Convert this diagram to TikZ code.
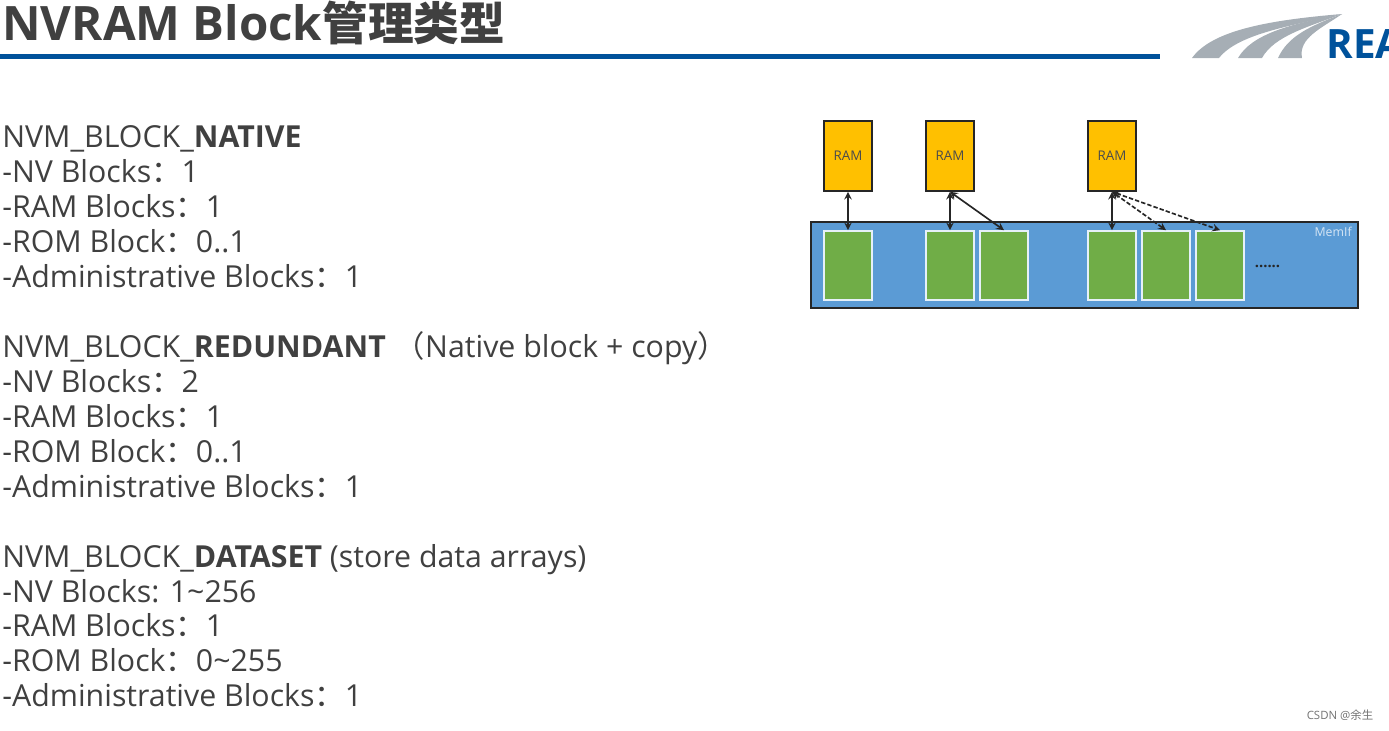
\documentclass[tikz,border=0pt]{standalone}
\usepackage{fontspec}
\setmainfont{Open Sans}
\newfontfamily\cjk{Noto Sans CJK SC}
\usetikzlibrary{shapes, positioning}
\definecolor{textgray}{HTML}{404040}
\definecolor{ruleblue}{HTML}{00529B}
\definecolor{logogray}{HTML}{A6AEB5}
\definecolor{ramyellow}{HTML}{FFC000}
\definecolor{memblue}{HTML}{5B9BD5}
\definecolor{blockgreen}{HTML}{70AD47}
\newcommand{\cnc}{{\cjk ：}}
\tikzset{
    line/.style={anchor=base west, inner sep=0pt, text=textgray, font=\fontsize{17.25}{19}\selectfont},
    ram/.style={draw=black!85, line width=0.9pt, fill=ramyellow, minimum width=48*0.02cm, minimum height=70*0.02cm, inner sep=0pt, text=black!70, font=\fontsize{7.6}{9}\selectfont},
    nvblock/.style={draw=white!85!memblue, line width=0.9pt, fill=blockgreen, minimum width=48*0.02cm, minimum height=69*0.02cm, inner sep=0pt},
    link/.style={<->, >=stealth, line width=0.95pt, black!85},
    copylink/.style={link, dashed, dash pattern=on 2.5pt off 1.2pt},
}
\begin{document}
\begin{tikzpicture}[x=0.02cm, y=-0.02cm]
        \useasboundingbox (0, 0) rectangle (1389, 730);
        \clip (0, 0) rectangle (1389, 730);

        % title
        \node[anchor=base west, inner sep=0pt, text=textgray, font=\fontsize{27}{32}\selectfont\bfseries] (title) at (2, 40) {NVRAM Block{\fontsize{26}{32}\selectfont\cjk 管理类型}};
        \fill[ruleblue] (0, 54) rectangle (1160, 59);

        % logo
        \fill[logogray] (1192, 58) .. controls (1212, 30) and (1270, 20) .. (1342, 14) .. controls (1290, 26) and (1238, 34) .. (1219, 58) -- cycle;
        \fill[logogray] (1238, 58) .. controls (1252, 34) and (1290, 24) .. (1342, 14) .. controls (1308, 27) and (1274, 36) .. (1262, 58) -- cycle;
        \fill[logogray] (1278, 58) .. controls (1288, 36) and (1310, 26) .. (1342, 14) .. controls (1322, 28) and (1298, 38) .. (1302, 58) -- cycle;
        \node[anchor=base west, inner sep=0pt, text=ruleblue, font=\fontsize{23}{26}\selectfont\bfseries] (logotext) at (1326, 58) {REA};

        % native
        \node[line] (nativehead) at (2, 147) {NVM\_BLOCK\_\textbf{NATIVE}};
        \node[line] (nativenv) at (2, 182) {-NV Blocks\cnc 1};
        \node[line] (nativeram) at (2, 217) {-RAM Blocks\cnc 1};
        \node[line] (nativerom) at (2, 252) {-ROM Block\cnc 0..1};
        \node[line] (nativeadmin) at (2, 287) {-Administrative Blocks\cnc 1};

        % redundant
        \node[line] (redhead) at (2, 357) {NVM\_BLOCK\_\textbf{REDUNDANT}\hspace{0.3em}{\cjk （}Native block + copy{\cjk ）}};
        \node[line] (rednv) at (2, 392) {-NV Blocks\cnc 2};
        \node[line] (redram) at (2, 427) {-RAM Blocks\cnc 1};
        \node[line] (redrom) at (2, 462) {-ROM Block\cnc 0..1};
        \node[line] (redadmin) at (2, 497) {-Administrative Blocks\cnc 1};

        % dataset
        \node[line] (sethead) at (2, 567) {NVM\_BLOCK\_\textbf{DATASET} (store data arrays)};
        \node[line] (setnv) at (2, 602) {-NV Blocks: 1\textasciitilde 256};
        \node[line] (setram) at (2, 636) {-RAM Blocks\cnc 1};
        \node[line] (setrom) at (2, 671) {-ROM Block\cnc 0\textasciitilde 255};
        \node[line] (setadmin) at (2, 706) {-Administrative Blocks\cnc 1};

        % memif bar and blocks
        \node[draw=black!85, line width=1.1pt, fill=memblue, minimum width=547*0.02cm, minimum height=86*0.02cm, inner sep=0pt] (memif) at (1084.5, 265) {};
        \node[anchor=north east, inner sep=0pt, text=white!75!memblue, font=\fontsize{7}{9}\selectfont] (memlabel) at (1352, 227) {MemIf};

        \node[ram] (ram1) at (848, 156) {RAM};
        \node[ram] (ram2) at (950, 156) {RAM};
        \node[ram] (ram3) at (1112, 156) {RAM};

        \node[nvblock] (nv1) at (848, 265.5) {};
        \node[nvblock] (nv2) at (950, 265.5) {};
        \node[nvblock] (nv3) at (1004, 265.5) {};
        \node[nvblock] (nv4) at (1112, 265.5) {};
        \node[nvblock] (nv5) at (1166, 265.5) {};
        \node[nvblock] (nv6) at (1220, 265.5) {};
        \node[inner sep=0pt, font=\fontsize{8.4}{9}\selectfont\bfseries, text=black!85] (more) at (1267.5, 266) {......};

        \draw[link] (ram1) -- (nv1);
        \draw[link] (ram2) -- (nv2);
        \draw[link] (ram2.south) -- (nv3.north);
        \draw[link] (ram3) -- (nv4);
        \draw[copylink] (ram3.south) -- (nv5.north);
        \draw[copylink] (ram3.south) -- (nv6.north);

        % watermark
        \node[inner sep=0pt, text=black!55, font=\fontsize{6.5}{8}\selectfont] (mark) at (1340, 715) {CSDN @{\cjk 余生}};
    \end{tikzpicture}
\end{document}
